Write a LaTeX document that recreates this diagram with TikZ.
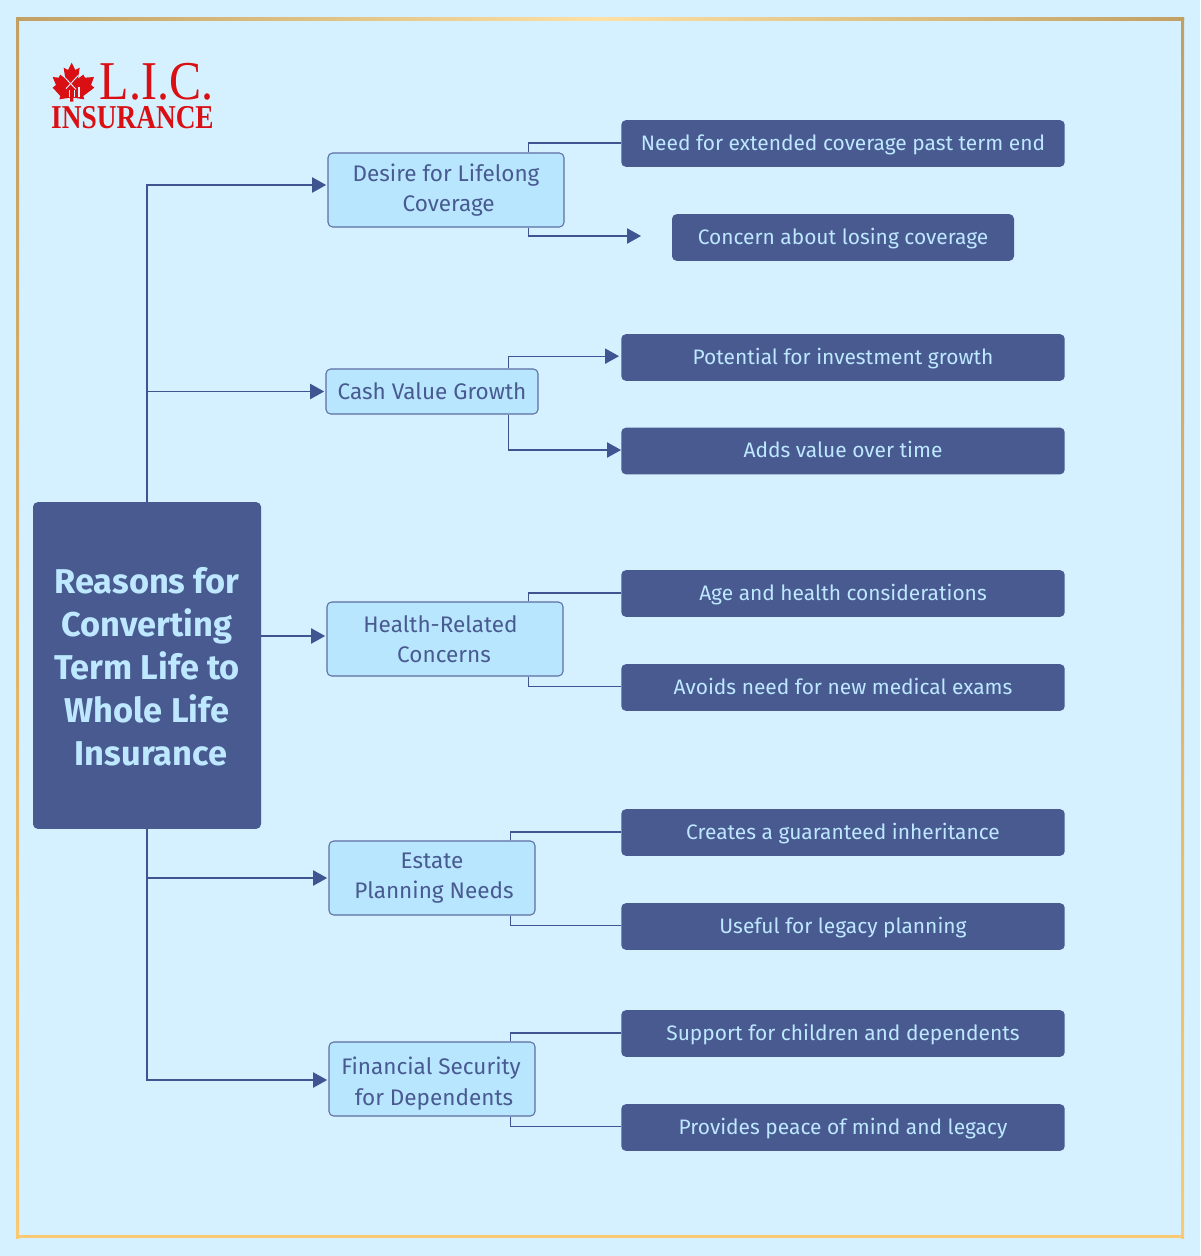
\documentclass[tikz,border=0pt]{standalone}
\usepackage{fontspec}
\usepackage{tikz}
\usetikzlibrary{calc,arrows.meta}
\setmainfont{Fira Sans}
\newfontfamily\logofont{Liberation Serif}
\definecolor{pagebg}{HTML}{D5F1FF}
\definecolor{darkbox}{HTML}{485A90}
\definecolor{lightbox}{HTML}{B8E6FF}
\definecolor{boxtext}{HTML}{BDE8FF}
\definecolor{linkblue}{HTML}{3F5592}
\definecolor{logored}{HTML}{D90F14}
\definecolor{goldA}{HTML}{C2A063}
\definecolor{goldB}{HTML}{FCE0A4}
\definecolor{goldC}{HTML}{FAC973}
\tikzset{
  mainbox/.style={fill=darkbox,rounded corners=3.5pt,inner sep=0pt,text=boxtext,align=center,font=\fontsize{25.8}{32.3}\selectfont\bfseries},
  topicbox/.style={draw=linkblue!85,line width=0.8pt,fill=lightbox,rounded corners=3.5pt,inner sep=0pt,text=darkbox,align=center,font=\fontsize{16.9}{23}\selectfont},
  leafbox/.style={fill=darkbox,rounded corners=3.5pt,inner sep=0pt,text=boxtext,text height=14pt,text depth=4.2pt,font=\fontsize{15.7}{20}\selectfont},
  link/.style={draw=linkblue,line width=0.8pt},
  linkarrow/.style={link,-{Triangle[length=10.5pt,width=11.5pt]},shorten >=1pt}
}
\begin{document}
\begin{tikzpicture}[x=0.75pt,y=-0.75pt]
  % Page and frame
  \fill[pagebg] (0,0) rectangle (1200,1256);
  \useasboundingbox (0,0) rectangle (1200,1256);
  \shade[left color=goldA,right color=goldA,middle color=goldB] (16,18) rectangle (1184,21);
  \shade[top color=goldA,bottom color=goldC] (16,18) rectangle (19,1238);
  \shade[top color=goldA,bottom color=goldC] (1181,18) rectangle (1184,1238);
  \fill[goldC] (16,1235) rectangle (1184,1238);

  % Logo
  \begin{scope}[shift={(30,40)},x=0.25pt,y=-0.25pt]
    \fill[logored] (125,68) -- (136,90) -- (149,83) -- (144,116) -- (160,104) -- (165,113) -- (192,111) -- (183,135) -- (193,143)
      -- (160,168) -- (163,178) -- (130,173) -- (130,185) -- (120,185) -- (120,173) -- (88,178) -- (91,168)
      -- (68,143) -- (78,135) -- (68,111) -- (86,113) -- (91,104) -- (106,116) -- (101,83) -- (114,90) -- cycle;
    \draw[pagebg,line width=0.7pt] (104,112) -- (138,148);
    \draw[pagebg,line width=0.7pt] (145,106) -- (108,146);
    \draw[pagebg,line width=0.8pt] (118,150) -- (118,170);
    \draw[pagebg,line width=0.8pt] (133,150) -- (133,170);
    \draw[pagebg,line width=0.8pt] (147,140) -- (147,170);
  \end{scope}
  \node[text=logored,inner sep=0pt,xscale=0.88,font=\logofont\fontsize{41}{41}\selectfont] (logotop) at (156.5,81.5) {L.I.C.};
  \node[text=logored,inner sep=0pt,xscale=0.82,font=\logofont\bfseries\fontsize{25}{25}\selectfont] (logobottom) at (132.5,117.5) {INSURANCE};

  % Main box
  \node[mainbox,minimum width=171pt,minimum height=245pt] (main) at (147,665.5) {\rule{0pt}{21pt}Reasons for\\Converting\\Term Life to\\Whole Life\\\hspace*{6pt}Insurance};

  % Topics
  \node[topicbox,minimum width=177pt,minimum height=55.5pt] (desire) at (446,190) {Desire for Lifelong\\\hspace*{4pt}Coverage};
  \node[topicbox,minimum width=159pt,minimum height=33.75pt] (cash) at (432,391.5) {Cash Value Growth};
  \node[topicbox,minimum width=177pt,minimum height=55.5pt] (health) at (445,639) {Health-Related\hspace*{6.75pt}\\[-0.8pt]Concerns\hspace*{1.5pt}};
  \node[topicbox,minimum width=154.5pt,minimum height=55.5pt] (estate) at (432,878) {Estate\\\hspace*{3pt}Planning Needs};
  \node[topicbox,minimum width=154.5pt,minimum height=55.5pt] (security) at (432,1079) {\rule{0pt}{20pt}Financial Security\hspace*{1.5pt}\\\hspace*{3pt}for Dependents};

  % Reasons
  \node[leafbox,minimum width=332.6pt,minimum height=35pt] (need) at (843,143.5) {Need for extended coverage past term end};
  \node[leafbox,minimum width=256.5pt,minimum height=35pt] (losing) at (843,237.5) {Concern about losing coverage};
  \node[leafbox,minimum width=332.6pt,minimum height=35pt] (growth) at (843,357.5) {Potential for investment growth};
  \node[leafbox,minimum width=332.6pt,minimum height=35pt] (adds) at (843,451) {Adds value over time};
  \node[leafbox,minimum width=332.6pt,minimum height=35pt] (age) at (843,593.5) {Age and health considerations};
  \node[leafbox,minimum width=332.6pt,minimum height=35pt] (exams) at (843,687.5) {Avoids need for new medical exams};
  \node[leafbox,minimum width=332.6pt,minimum height=35pt] (creates) at (843,832.5) {Creates a guaranteed inheritance};
  \node[leafbox,minimum width=332.6pt,minimum height=35pt] (legacy) at (843,926.5) {Useful for legacy planning};
  \node[leafbox,minimum width=332.6pt,minimum height=35pt] (support) at (843,1033.5) {Support for children and dependents};
  \node[leafbox,minimum width=332.6pt,minimum height=35pt] (peace) at (843,1127.5) {Provides peace of mind and legacy};

  % Main box to topics
  \draw[linkarrow] (main.north) |- ([yshift=3.75pt]desire.west);
  \draw[linkarrow] (main.north) |- (cash.west);
  \draw[linkarrow] (main.east |- 0,636) -- ([yshift=2.25pt]health.west);
  \draw[linkarrow] (main.south) |- (estate.west);
  \draw[linkarrow] (main.south) |- ([yshift=-0.75pt]security.west);

  % Topics to reasons
  \coordinate (losingend) at (641,236);
  \draw[link] ($(desire.north east)+(-36,0)$) |- ([yshift=0.4pt]need.west);
  \draw[linkarrow,shorten >=0pt] ($(desire.south east)+(-36,0)$) |- (losingend);
  \draw[linkarrow,shorten >=1.5pt] ($(cash.north east)+(-30,0)$) |- ([yshift=1pt]growth.west);
  \draw[linkarrow,shorten >=0pt] ($(cash.south east)+(-30,0)$) |- ([yshift=0.75pt]adds.west);
  \draw[link] ($(health.north east)+(-35,0)$) |- ([yshift=0.4pt]age.west);
  \draw[link] ($(health.south east)+(-35,0)$) |- ([yshift=1pt]exams.west);
  \draw[link] ($(estate.north east)+(-25,0)$) |- ([yshift=0.4pt]creates.west);
  \draw[link] ($(estate.south east)+(-25,0)$) |- ([yshift=1pt]legacy.west);
  \draw[link] ($(security.north east)+(-25,0)$) |- ([yshift=0.4pt]support.west);
  \draw[link] ($(security.south east)+(-25,0)$) |- ([yshift=1pt]peace.west);
\end{tikzpicture}
\end{document}
